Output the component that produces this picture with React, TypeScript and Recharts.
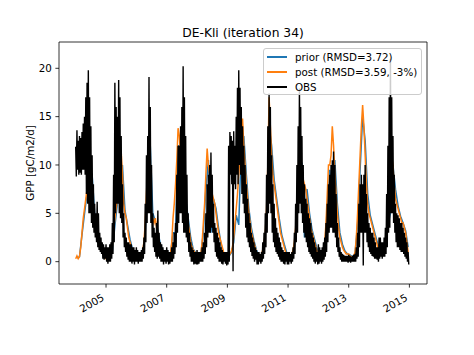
import { LineChart, Line, XAxis, YAxis, ReferenceLine } from "recharts";

const FONT = "'DejaVu Sans', sans-serif";
const START = 2004;

// half-month steps, 24 per year, 2004..2014. OBS drawn as daily spread (high / low)
const obsHi = [
  11.9, 13.6, 12.5, 13, 12.8, 13.4, 14.3, 15, 17, 18.5, 19.8, 17, 14, 11, 8, 6, 5, 6.2, 5, 3, 2.5, 2, 1.8, 1.5,
  1.8, 1.5, 1.5, 1.8, 2, 4, 9, 18.5, 16, 15, 18.8, 17, 13, 8, 5, 3, 2.5, 2, 2, 1.8, 1.8, 1.5, 1.5, 1.2,
  1.5, 1.2, 1, 1, 1.2, 1.5, 2.5, 6, 11, 13, 19.1, 16, 10, 5, 3.5, 3, 4, 5.3, 3, 2, 1.8, 1.5, 1.2, 1.2,
  1.5, 1.2, 1, 1, 1.5, 2, 3, 4, 9, 12, 12, 14, 16, 20.2, 17, 13, 9, 5, 3, 2, 1.5, 1.2, 1, 1,
  1.2, 1, 1, 1, 1.5, 2, 3, 5, 8, 9, 10, 11.3, 9, 6, 4, 3.5, 3, 2.5, 2, 1.5, 1.2, 1, 1, 1,
  1, 12, 13.4, 13, 12.5, 13.5, 12, 15, 18, 19.8, 18, 16, 14, 12, 10, 8, 6.5, 5, 4, 3, 2.5, 2, 1.5, 1.2,
  1, 1, 0.8, 1, 2, 3, 5, 9, 14, 17.4, 16, 11, 8, 6, 4.5, 3.5, 3, 2.5, 2, 1.5, 1.2, 1, 1, 1,
  1, 1, 0.8, 1, 1.5, 3, 6, 10, 14, 17.9, 16, 13, 10, 8, 6.5, 6, 5, 4.5, 4, 3, 2.5, 2, 1.5, 1,
  1.8, 1.5, 1.2, 1.5, 2, 2.5, 4, 6, 8, 9, 10, 10.5, 11.4, 10, 7, 4, 2.5, 1.5, 1, 0.8, 0.7, 0.6, 0.6, 0.6,
  0.7, 0.6, 0.5, 0.6, 0.7, 0.8, 1.5, 3, 6, 8, 9, 8, 9, 10, 7, 5, 4, 3.5, 3, 3, 2.5, 2, 1.5, 1.5,
  2.5, 2.5, 2, 2, 2.5, 3.5, 7, 12, 17, 21, 17, 13, 9, 6, 5, 4.8, 4.5, 4, 4, 3.5, 3, 2.5, 2, 1,
];
const obsLo = [
  8.8, 9.5, 9, 9.2, 9, 9.5, 9.5, 9, 7, 6, 5, 5, 4, 3.5, 3, 2.5, 2, 1.5, 1.2, 1, 0.8, 0.3, 0.2, 0.3,
  0, -0.2, 0, 0, 0.3, 0.8, 2, 5, 6, 6, 5, 4.5, 4, 2.5, 1.5, 1, 0.5, 0.2, 0, 0, -0.2, 0, -0.3, 0,
  0, -0.2, 0, 0, 0, 0.3, 0.8, 2, 4, 5, 5, 4, 2.5, 1.5, 1, 0.5, 0.3, 0.5, 0.3, 0, 0, -0.3, 0, -0.2,
  0, -0.3, -0.2, 0, 0, 0.3, 0.8, 1.5, 3, 4, 5, 5, 4, 3, 3, 2.5, 2, 1, 0.5, 0, 0, -0.3, -0.2, -0.3,
  -0.3, -0.2, 0, 0, 0, 0.3, 0.8, 1.5, 2.5, 3, 3, 3.5, 3, 2, 1, 0.5, 0.3, 0, 0, -0.2, -0.3, 0, -0.2, -0.4,
  -0.3, 0, 9, 8, -1, 8, 7.5, 9, 8, 10, 9, 7, 6, 5, 3.5, 2.5, 2, 1.5, 1, 0.6, 0.3, 0, 0.2, -0.3,
  -0.3, 0, -0.2, 0, 0.3, 0.8, 1.5, 3, 5, 6, 5, 3, 2, 1.5, 1, 0.8, 0.5, 0.2, 0, 0, -0.2, -0.3, 0, -0.3,
  -0.3, 0, -0.2, 0, 0.3, 0.8, 2, 3, 5, 6, 5, 4, 3, 2.5, 2, 1.5, 1, 0.8, 0.5, 0.3, 0, -0.2, 0, -0.3,
  -0.2, 0, -0.2, 0, 0.2, 0.5, 1, 2, 3, 3.5, 3.5, 3, 3, 2.5, 1.5, 1, 0.5, 0.2, 0, 0, 0, 0, 0, -0.1,
  0, -0.1, 0, 0, 0, 0, 0.3, 0.5, 1.5, 3, 3, -0.4, 3, 3, 2, 1.5, 1, 0.8, 0.6, 0.5, 0.3, 0.3, 0.2, 0,
  0.3, 0.5, 0.3, 0.5, 0.5, 0.8, 1.5, 3, 3.5, 5, 5, 4, 3, 2, 1.5, 1.5, 1.2, 1, 1, 0.8, 0.5, 0.3, 0, -0.3,
];
const postVals = [
  0.3, 0.6, 0.3, 0.5, 1.5, 3, 4.5, 5.5, 6.5, 7.5, 8.5, 9, 9.5, 8.5, 6, 4.5, 3.5, 3, 2.5, 2, 1.5, 1.2, 1, 0.8,
  0.3, 0.3, 0.4, 0.5, 0.8, 1.5, 3, 4.5, 5.5, 6.5, 8, 10, 11.3, 9, 6, 5, 4.5, 3.5, 2.5, 2, 1.5, 1.2, 1, 0.8,
  0.3, 0.3, 0.3, 0.5, 0.8, 1.2, 2, 4, 7, 10, 13, 11, 5, 4.5, 4, 4.5, 3.5, 3, 2, 1.5, 1.2, 1, 0.8, 0.5,
  0.5, 0.5, 0.5, 0.8, 2, 4.5, 6, 8, 10.5, 13.8, 13, 11, 9, 8, 7, 6, 5, 4, 3, 2, 1.5, 1.2, 1, 0.8,
  0.5, 0.5, 0.6, 0.8, 2, 4, 6, 9, 11.7, 10, 9, 8, 7, 6.5, 6, 5, 4, 3, 2.5, 2, 1.5, 1, 0.6, 0.5,
  0.5, 0.5, 0.8, 1, 1.5, 2.5, 4, 5.5, 7, 9, 11, 13, 14.8, 12, 10, 8, 6.5, 5, 4, 3, 2.5, 2, 1.5, 1,
  0.5, 0.5, 0.5, 0.8, 1.2, 2, 3, 5.5, 10, 17, 14, 11, 9, 8, 7, 6, 5, 4, 3, 2.5, 2, 1.5, 1, 0.8,
  0.5, 0.5, 0.5, 0.8, 1.2, 2, 3.5, 6, 9, 12, 11, 9, 8.5, 8, 7.5, 6.5, 5.5, 4.5, 3.5, 3, 2.5, 2, 1.5, 1,
  0.5, 0.5, 0.5, 0.8, 1.2, 2, 4, 7, 10, 10, 11, 14, 12, 9, 7, 5, 3.5, 2.5, 2, 1.5, 1.2, 1, 0.8, 0.8,
  0.8, 0.6, 0.5, 0.5, 0.6, 1, 2.5, 5, 8, 11, 14, 16.2, 14, 11, 8, 6, 5, 4.5, 4, 3.5, 3, 2.5, 2, 1.5,
  1.5, 1.5, 1.5, 1.5, 1.5, 2, 3, 5, 7.5, 9, 10.8, 10, 8, 6.5, 6, 5.5, 5, 4.5, 4, 4, 3.5, 3, 2, 1,
];
// monthly
const priorVals = [
  0.4, 0.5, 2.8, 5, 7, 8.8, 9, 5, 3.2, 2.2, 1.3, 0.9,
  0.3, 0.4, 1.1, 3.7, 6, 9, 10, 5.3, 3.8, 2.3, 1.3, 0.9,
  0.3, 0.4, 1, 3, 8.5, 12, 5, 4.2, 3.2, 1.8, 1.1, 0.6,
  0.5, 0.6, 3, 3, 12, 12, 8.5, 6.5, 4.5, 2.5, 1.3, 0.9,
  0.5, 0.7, 3, 7.5, 10.5, 3, 6.5, 5.5, 3.5, 1.8, 0.8, 0.5,
  0.5, 0.9, 2, 4.8, 3.8, 12, 13, 9, 5.5, 3.5, 2.2, 1.2,
  0.5, 0.7, 1.6, 4.3, 14, 12, 8.5, 6.5, 4.5, 2.8, 1.8, 0.9,
  0.5, 0.6, 1.6, 4.8, 9.5, 10, 2.5, 7.5, 5, 3.3, 2.3, 1.3,
  0.5, 0.7, 1.6, 5.5, 9.5, 6.8, 10.5, 6, 3, 1.8, 1.1, 0.8,
  0.7, 0.5, 0.8, 3.8, 9.5, 15, 12.5, 7, 4.8, 3.8, 2.8, 1.8,
  1.5, 1.5, 1.8, 3.8, 5, 10, 7.5, 5.8, 4.7, 4, 3.2, 1.5,
];

const xTicks = [2005, 2007, 2009, 2011, 2013, 2015];
const yTicks = [0, 5, 10, 15, 20];
const legendItems = [
  { label: "prior (RMSD=3.72)", color: "#1f77b4" },
  { label: "post (RMSD=3.59, -3%)", color: "#ff7f0e" },
  { label: "OBS", color: "#000000" },
];

const obsData = obsHi.flatMap((hi, k) => [
  { t: START + k / 24, v: hi },
  { t: START + k / 24 + 1 / 48, v: obsLo[k] },
]);
const postData = postVals.map((v, k) => ({ t: START + k / 24, v }));
const priorData = priorVals.map((v, m) => ({ t: START + m / 12 + 1 / 24, v }));

const X_DOMAIN: [number, number] = [2003.45, 2015.58];
const Y_DOMAIN: [number, number] = [-2.31, 22.72];

function XTick(props: any) {
  const { x, y, payload } = props;
  const ax = x - 1;
  const ay = y + 10;
  return (
    <text x={ax} y={ay} textAnchor="end" transform={`rotate(-30 ${ax} ${ay})`}
      fontSize={10.3} fontFamily={FONT} fill="#000">
      {payload.value}
    </text>
  );
}

export default function App() {
  return (
    <div style={{ position: "absolute", left: 0, top: 0, width: 474, height: 355, background: "#fff" }}>
      <LineChart width={474} height={355} margin={{ top: 42, right: 47, bottom: 0, left: 0 }}>
        <XAxis dataKey="t" type="number" domain={X_DOMAIN} ticks={xTicks} allowDataOverflow
          height={71} tickSize={3.6} tick={<XTick />} stroke="#000" strokeWidth={0.8} />
        <YAxis type="number" domain={Y_DOMAIN} ticks={yTicks} allowDataOverflow width={59}
          tickSize={3.6} tickMargin={3.5} stroke="#000" strokeWidth={0.8}
          tick={{ fontSize: 10.3, fontFamily: FONT, fill: "#000" }} />
        <Line data={priorData} dataKey="v" stroke="#1f77b4" strokeWidth={1.5} dot={false}
          isAnimationActive={false} />
        <Line data={postData} dataKey="v" stroke="#ff7f0e" strokeWidth={1.5} dot={false}
          isAnimationActive={false} />
        <Line data={obsData} dataKey="v" stroke="#000" strokeWidth={1.4} dot={false}
          isAnimationActive={false} />
        <ReferenceLine y={Y_DOMAIN[1]} stroke="#000" strokeWidth={0.8} />
        <ReferenceLine x={X_DOMAIN[1]} stroke="#000" strokeWidth={0.8} />
      </LineChart>
      <svg width={474} height={355} style={{ position: "absolute", left: 0, top: 0, pointerEvents: "none" }}>
        <text x={243} y={37} textAnchor="middle" fontSize={12.3} fontFamily={FONT} fill="#000">
          DE-Kli (iteration 34)
        </text>
        <text transform="translate(34 163) rotate(-90)" textAnchor="middle" fontSize={10.3}
          fontFamily={FONT} fill="#000">
          GPP [gC/m2/d]
        </text>
      </svg>
      <div style={{
        position: "absolute", left: 263, top: 48, width: 157, height: 45,
        border: "1px solid #cccccc", borderRadius: 3, background: "rgba(255,255,255,0.8)",
        fontFamily: FONT, fontSize: 10.3, color: "#000",
      }}>
        {legendItems.map((it, i) => (
          <div key={it.label} style={{ position: "absolute", left: 3, top: 1 + i * 15, height: 14, display: "flex", alignItems: "center" }}>
            <div style={{ width: 20, height: 1.5, background: it.color, marginRight: 8 }} />
            <span style={{ whiteSpace: "nowrap" }}>{it.label}</span>
          </div>
        ))}
      </div>
    </div>
  );
}
